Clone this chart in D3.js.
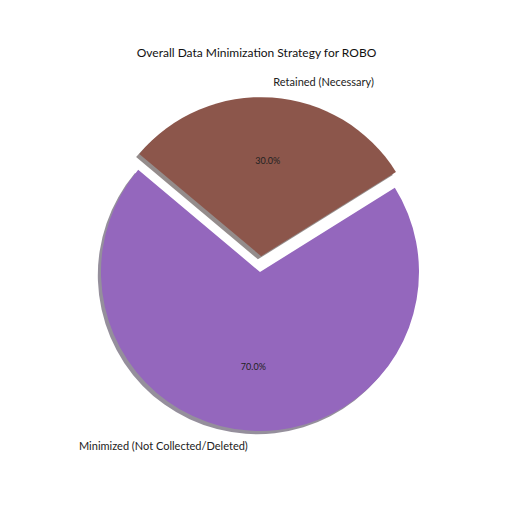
<!DOCTYPE html>
<html><head><meta charset="utf-8">
<script src="https://cdn.jsdelivr.net/npm/d3@7"></script>
<style>body{margin:0;background:#fff}svg{display:block}text{font-family:Lato,"Open Sans",sans-serif}</style>
</head><body>
<svg id="c" width="512" height="512"></svg>
<script>
const categories = ["Minimized (Not Collected/Deleted)", "Retained (Necessary)"];
const values = [70, 30];
const colors = ["#9467bd", "#8c564b"];
const explode = [0, 0.1];
const title = "Overall Data Minimization Strategy for ROBO";

const W = 512, H = 512;
const cx = 260, cy = 272, R = 159;
const startAngle = 140; // degrees, matplotlib style (counter-clockwise from +x)
const svg = d3.select("#c");
svg.append("rect").attr("width", W).attr("height", H).attr("fill", "#fff");

const total = d3.sum(values);
const angScale = d3.scaleLinear().domain([0, total]).range([0, 360]);
let acc = 0;
const slices = values.map((v, i) => {
  const a0 = startAngle + angScale(acc);
  acc += v;
  const a1 = startAngle + angScale(acc);
  return {i, v, a0, a1, mid: (a0 + a1) / 2};
});
const toD3 = a => (90 - a) * Math.PI / 180;
const arc = d3.arc().innerRadius(0).outerRadius(R);

function shadowColor(c) {
  const r = d3.rgb(c);
  return d3.rgb(r.r * 0.3, r.g * 0.3, r.b * 0.3);
}

const g = svg.append("g");
const sh = 0.02 * R;
slices.forEach(s => {
  const m = s.mid * Math.PI / 180;
  const ox = cx + explode[s.i] * R * Math.cos(m);
  const oy = cy - explode[s.i] * R * Math.sin(m);
  g.append("path")
    .attr("d", arc({startAngle: toD3(s.a1), endAngle: toD3(s.a0)}))
    .attr("transform", `translate(${ox - sh},${oy + sh})`)
    .attr("fill", shadowColor(colors[s.i])).attr("fill-opacity", 0.5);
});
slices.forEach(s => {
  const m = s.mid * Math.PI / 180;
  const ox = cx + explode[s.i] * R * Math.cos(m);
  const oy = cy - explode[s.i] * R * Math.sin(m);
  g.append("path")
    .attr("d", arc({startAngle: toD3(s.a1), endAngle: toD3(s.a0)}))
    .attr("transform", `translate(${ox},${oy})`)
    .attr("fill", colors[s.i]);
  const lx = ox + 1.1 * R * Math.cos(m), ly = oy - 1.1 * R * Math.sin(m);
  g.append("text").attr("x", lx).attr("y", ly).attr("dy", "0.35em")
    .attr("text-anchor", Math.cos(m) >= 0 ? "start" : "end")
    .attr("font-size", 11).attr("fill", "#222")
    .text(categories[s.i]);
  const px = ox + 0.6 * R * Math.cos(m), py = oy - 0.6 * R * Math.sin(m);
  g.append("text").attr("x", px).attr("y", py).attr("dy", "0.35em")
    .attr("text-anchor", "middle").attr("font-size", 9).attr("fill", "#222")
    .text(d3.format(".1f")(s.v / total * 100) + "%");
});

svg.append("text").attr("x", 256.5).attr("y", 57).attr("text-anchor", "middle")
  .attr("font-size", 12).attr("fill", "#111").text(title);
</script>
</body></html>
